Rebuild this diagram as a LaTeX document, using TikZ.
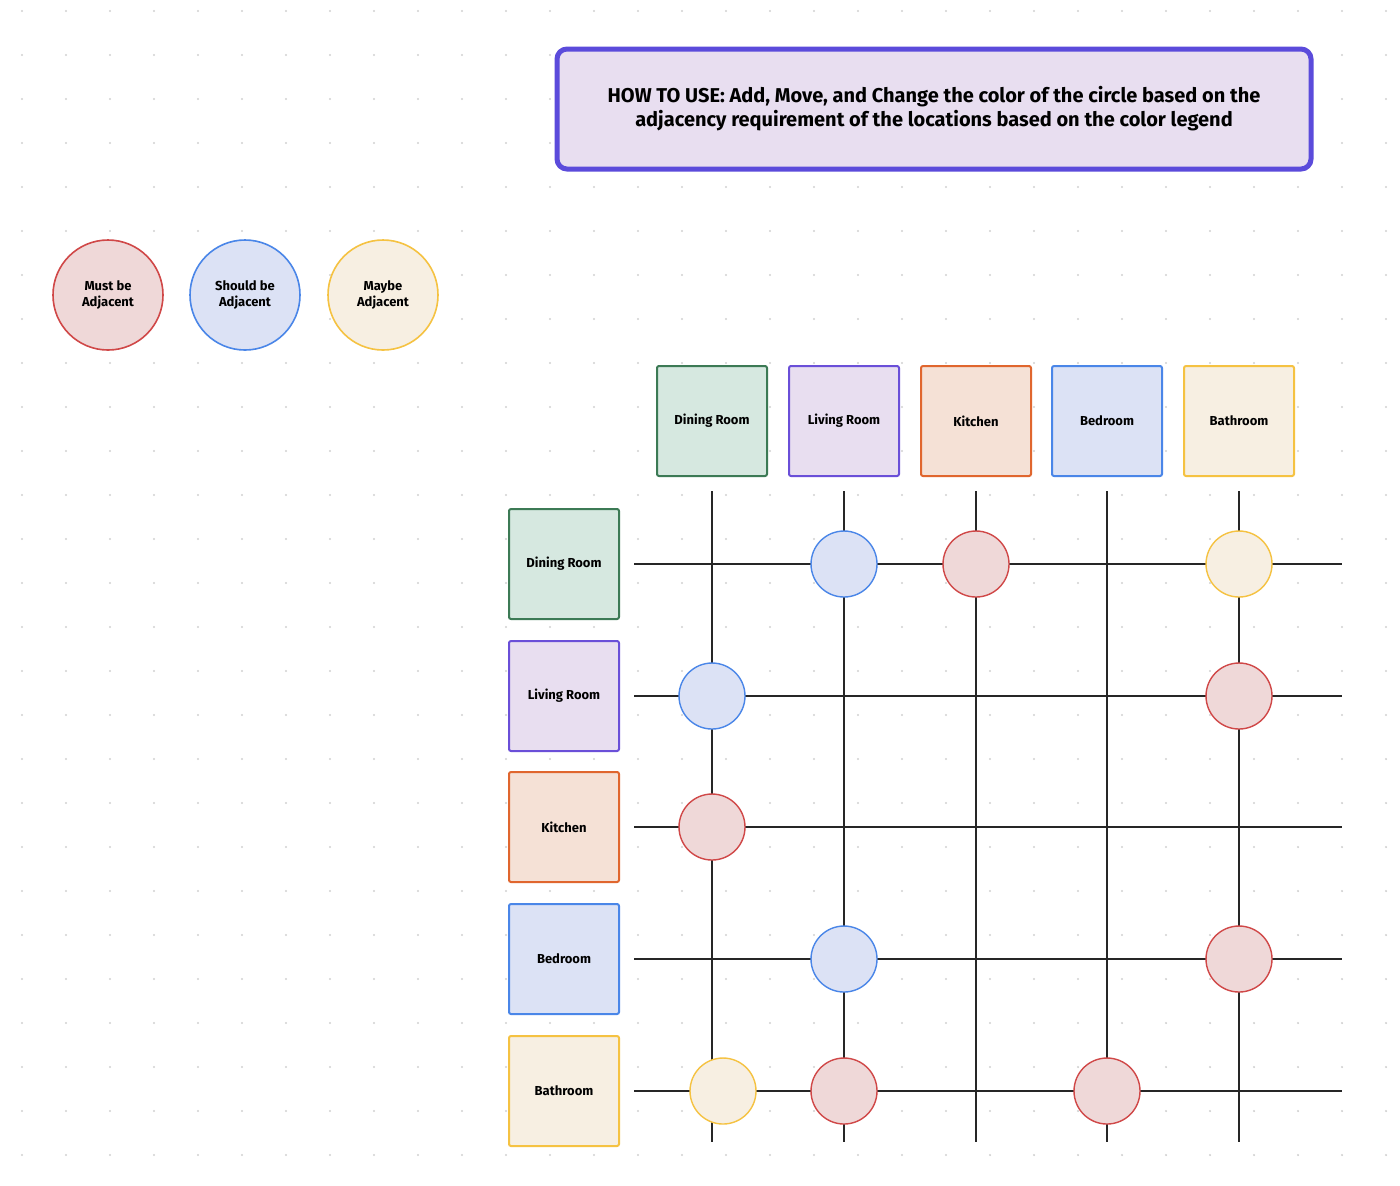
\documentclass[tikz,border=0pt]{standalone}
\usepackage{fontspec}
\setmainfont{Fira Sans}
\usetikzlibrary{positioning}
\definecolor{must-line}{HTML}{D04848}
\definecolor{must-fill}{HTML}{EFD8D8}
\definecolor{should-line}{HTML}{4A86E8}
\definecolor{should-fill}{HTML}{DCE2F5}
\definecolor{maybe-line}{HTML}{F5C242}
\definecolor{maybe-fill}{HTML}{F7EFE2}
\definecolor{dining-line}{HTML}{3C7A55}
\definecolor{dining-fill}{HTML}{D6E8E0}
\definecolor{living-line}{HTML}{6A4FD8}
\definecolor{living-fill}{HTML}{E8DEF0}
\definecolor{kitchen-line}{HTML}{E0662E}
\definecolor{kitchen-fill}{HTML}{F5E1D6}
\definecolor{title-line}{HTML}{5B4BDB}
\begin{document}
\begin{tikzpicture}[%
    x=0.5pt, y=-0.5pt,
    room/.style={draw, line width=1pt, minimum size=55pt, inner sep=0pt,
      rounded corners=1pt, font=\fontsize{6.5}{7.5}\selectfont\bfseries},
    dot/.style={circle, draw, line width=0.7pt, minimum size=33pt, inner sep=0pt},
    legend/.style={circle, draw, line width=0.8pt, minimum size=55pt, inner sep=0pt,
      align=center, font=\fontsize{6.5}{8}\selectfont\bfseries},
    must/.style={dot, draw=must-line, fill=must-fill},
    should/.style={dot, draw=should-line, fill=should-fill},
    maybe/.style={dot, draw=maybe-line, fill=maybe-fill},
    grid line/.style={line width=0.7pt, black!85},
  ]
  \useasboundingbox (0,0) rectangle (1400,1185);
  \fill [white] (0,0) rectangle (1400,1185);
  % dotted background
  \foreach \i in {0,...,31}
    \foreach \j in {0,...,26}
      \fill [black!18] (22+44*\i,11+44*\j) circle (0.6pt);

  \node [%
    draw=title-line, fill=living-fill, line width=2.5pt, rounded corners=5pt,
    minimum width=377pt, minimum height=60pt, align=center,
    font=\fontsize{10}{12}\selectfont\bfseries,
  ] (howto) at (934,109) {HOW TO USE: Add, Move, and Change the color of the circle based on the\\adjacency requirement of the locations based on the color legend};

  \node [legend, draw=must-line, fill=must-fill] (must key) at (108,295) {Must be\\Adjacent};
  \node [legend, draw=should-line, fill=should-fill] (should key) at (245,295) {Should be\\Adjacent};
  \node [legend, draw=maybe-line, fill=maybe-fill] (maybe key) at (383,295) {Maybe\\Adjacent};

  % columns and rows
  \foreach \n/\x/\c/\t in {1/712/dining/Dining Room, 2/844/living/Living Room,
      3/976/kitchen/Kitchen, 4/1107/should/Bedroom, 5/1239/maybe/Bathroom} {
    \node [room, draw=\c-line, fill=\c-fill] (col \n) at (\x,421) {\t};
    \coordinate (col \n end) at (\x,1142);
    \draw [grid line, shorten <=7pt] (col \n.south) -- (col \n end);
  }
  \foreach \n/\y/\c/\t in {1/564/dining/Dining Room, 2/696/living/Living Room,
      3/827/kitchen/Kitchen, 4/959/should/Bedroom, 5/1091/maybe/Bathroom} {
    \node [room, draw=\c-line, fill=\c-fill] (row \n) at (564,\y) {\t};
    \coordinate (row \n end) at (1342,\y);
    \draw [grid line, shorten <=7pt] (row \n.east) -- (row \n end);
  }

  % adjacency marks
  \node [should] (dot 1-2) at (844,564) {};
  \node [must] (dot 1-3) at (976,564) {};
  \node [maybe] (dot 1-5) at (1239,564) {};
  \node [should] (dot 2-1) at (712,696) {};
  \node [must] (dot 2-5) at (1239,696) {};
  \node [must] (dot 3-1) at (712,827) {};
  \node [should] (dot 4-2) at (844,959) {};
  \node [must] (dot 4-5) at (1239,959) {};
  \node [maybe] (dot 5-1) at (723,1091) {};
  \node [must] (dot 5-2) at (844,1091) {};
  \node [must] (dot 5-4) at (1107,1091) {};
\end{tikzpicture}
\end{document}
